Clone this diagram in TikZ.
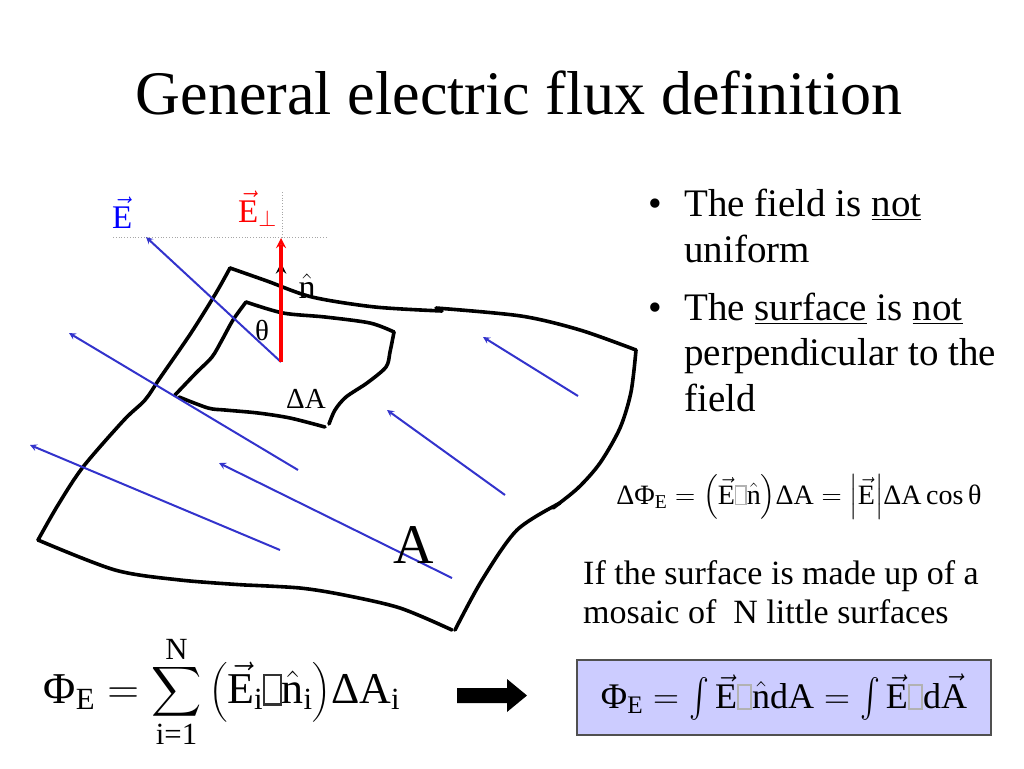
\RequirePackage{fix-cm}
\documentclass[tikz,border=0pt]{standalone}
\usepackage{amsmath}
\usepackage{fontspec}
\setmainfont{Liberation Serif}
\definecolor{fieldblue}{RGB}{51,51,204}
\definecolor{boxfill}{RGB}{204,204,255}
\definecolor{boxedge}{RGB}{80,80,80}
\newcommand{\tx}[1]{\text{#1}}
\newcommand{\boxglyph}[1]{{\color{#1}\setlength{\fboxsep}{0pt}\setlength{\fboxrule}{0.05em}\fbox{\rule{0pt}{0.62em}\hspace{0.32em}}}}
\newcommand{\bigsum}{\mathop{\vcenter{\hbox{\scalebox{1.4}{$\displaystyle\sum$}}}}\limits}
\newcommand{\tallint}{\mathop{\vcenter{\hbox{\scalebox{1.2}[1.55]{$\int$}}}}}
\newcommand{\strutp}{\vrule height 0.95em depth 0.45em width 0pt}
\tikzset{
  edge/.style={line width=3.6pt,line cap=round,line join=round},
  field/.style={->,fieldblue,line width=2pt},
  txt/.style={inner sep=0pt,anchor=base west},
}
\begin{document}
\begin{tikzpicture}[>=stealth,x=1pt,y=-1pt]
\useasboundingbox (0,0) rectangle (1024,768);
% title
\node[inner sep=0pt,anchor=base,font=\fontsize{62}{70}\selectfont] (title) at (519,114) {General electric flux definition};
% surface A
\draw[edge] plot[smooth] coordinates {(230,268) (216,293) (191,333) (160,378) (145,400) (124,420) (83,467) (58,505) (38,540)};
\draw[edge] plot[smooth] coordinates {(230,268) (267,281) (312,297) (375,307) (442,311)};
\draw[edge] plot[smooth] coordinates {(436,308) (521,316) (580,330) (636,350)};
\draw[edge] plot[smooth] coordinates {(636,350) (631,392) (620,428) (600,463) (578,488) (553,508)};
\draw[edge] plot[smooth] coordinates {(560,503) (517,530) (482,580) (455,630)};
\draw[edge] plot[smooth] coordinates {(38,540) (115,570) (180,580) (245,585)};
\draw[edge] plot[smooth] coordinates {(245,585) (300,588) (344,595) (400,608) (452,630)};
% patch dA
\draw[edge] plot[smooth] coordinates {(246,302) (283,313) (325,317) (370,323) (394,332)};
\draw[edge] plot[smooth] coordinates {(394,332) (390,352) (386,367) (367,383) (346,397) (335,410) (329,424)};
\draw[edge] plot[smooth] coordinates {(325,427) (290,418) (258,413) (225,410) (208,408) (179,397)};
\draw[edge] plot[smooth] coordinates {(246,302) (233,320) (222,340) (212,357) (196,373) (175,395)};
% field lines
\coordinate (o) at (281,362);
\draw[field] (o) -- (146,237);
\draw[field] (298,470) -- (69,333);
\draw[field] (280,550) -- (30,445);
\draw[field] (452,578) -- (219,463);
\draw[field] (505,495) -- (387,410);
\draw[field] (578,396) -- (483,337);
% guide lines
\draw[gray!70,dotted,line width=0.8pt] (113,237) -- (327,237);
\draw[gray!70,dotted,line width=0.8pt] (282,192) -- (282,237);
% normal and perpendicular part
\draw[->,line width=3.6pt] (o) -- (281,263);
\draw[->,red,line width=3.4pt] (o) -- (281,238);
% labels
\node[txt,blue,font=\fontsize{33}{36}\selectfont] (Elab) at (112,228) {$\vec{\tx{E}}$};
\node[txt,red,font=\fontsize{33}{36}\selectfont] (Eperp) at (238,222) {$\vec{\tx{E}}_\perp$};
\node[font=\fontsize{34}{38}\selectfont] (nhat) at (307,286) {$\hat{\tx{n}}$};
\node[font=\fontsize{29}{32}\selectfont] (theta) at (262,330) {θ};
\node[font=\fontsize{29}{32}\selectfont] (dA) at (306,399) {ΔA};
\node[font=\fontsize{56}{60}\selectfont] (A) at (414,545) {A};
% bullets
\begin{scope}[font=\fontsize{39}{46}\selectfont]
\node[txt] (b1) at (648,216) {•};
\node[txt] (l1) at (684,216) {The field is \underline{not}};
\node[txt] (l2) at (684,262) {uniform};
\node[txt] (b2) at (648,320) {•};
\node[txt] (l3) at (684,320) {The \underline{surface} is \underline{not}};
\node[txt] (l4) at (684,365) {perpendicular to the};
\node[txt] (l5) at (684,411) {field};
\end{scope}
% equations
\node[font=\fontsize{28}{32}\selectfont] (dphi) at (799,497)
  {$\tx{ΔΦ}_{\tx{E}} = {\left(\vec{\tx{E}}\boxglyph{gray!60}\hat{\tx{n}}\strutp\right)}\tx{ΔA} = {\left|\vec{\tx{E}}\strutp\right|}\tx{ΔA}\,\tx{cos}\,\tx{θ}$};
\node[txt,font=\fontsize{34}{38}\selectfont] (m1) at (583,584) {If the surface is made up of a};
\node[txt,font=\fontsize{34}{38}\selectfont] (m2) at (583,623) {mosaic of \ N little surfaces};
\node[font=\fontsize{44}{48}\selectfont] (sum) at (222,692)
  {$\displaystyle\tx{Φ}_{\tx{E}} = \bigsum_{\tx{i=1}}^{\tx{N}}{\left(\vec{\tx{E}}_{\tx{i}}\boxglyph{black!80}\hat{\tx{n}}_{\tx{i}}\strutp\right)}\tx{ΔA}_{\tx{i}}$};
\fill (457,688) -- (507,688) -- (507,679) -- (527,695.5) -- (507,712) -- (507,703) -- (457,703) -- cycle;
\node[draw=boxedge,fill=boxfill,line width=1.4pt,minimum width=414pt,minimum height=75pt] (res) at (784,697.5) {};
\node[font=\fontsize{36}{40}\selectfont] (flux) at (res.center)
  {$\tx{Φ}_{\tx{E}} = \tallint\vec{\tx{E}}\boxglyph{gray!60}\hat{\tx{n}}\tx{dA} = \tallint\vec{\tx{E}}\boxglyph{gray!60}\tx{d}\vec{\tx{A}}$};
\end{tikzpicture}
\end{document}
